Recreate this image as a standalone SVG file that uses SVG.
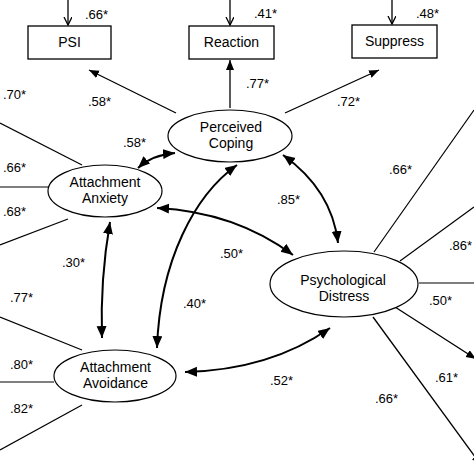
<svg xmlns="http://www.w3.org/2000/svg" width="474" height="474" viewBox="0 0 474 474">
<style>
text{font-family:"Liberation Sans",Arial,sans-serif;fill:#000}
.lbl{font-size:13px}
.nt{font-size:14px;text-anchor:middle}
.box{fill:#fff;stroke:#000;stroke-width:1.3}
.ell{fill:#fff;stroke:#000;stroke-width:1.2}
.thin{stroke:#000;stroke-width:1.2;fill:none}
.ind{stroke:#000;stroke-width:1.3;fill:none;marker-end:url(#ah)}
.cur{stroke:#000;stroke-width:2;fill:none;marker-start:url(#bh);marker-end:url(#bh)}
.err{stroke:#000;stroke-width:1.3;fill:none;marker-end:url(#vh)}
</style>
<defs>
<marker id="ah" markerUnits="userSpaceOnUse" markerWidth="12" markerHeight="10" refX="10" refY="4" orient="auto"><path d="M0,0 L10,4 L0,8 z" fill="#000"/></marker>
<marker id="bh" markerUnits="userSpaceOnUse" markerWidth="14" markerHeight="12" refX="12" refY="5" orient="auto-start-reverse"><path d="M0,0 L12,5 L0,10 z" fill="#000"/></marker>
<marker id="vh" markerUnits="userSpaceOnUse" markerWidth="10" markerHeight="10" refX="8" refY="4" orient="auto"><path d="M0,0 L8,4 L0,8" fill="none" stroke="#000" stroke-width="1.3"/></marker>
</defs>
<rect width="474" height="474" fill="#fff"/>
<g id="connectors">
<line class="err" x1="68" y1="0" x2="68" y2="25"/>
<line class="err" x1="230" y1="0" x2="230" y2="25"/>
<line class="err" x1="392" y1="0" x2="392" y2="24"/>
<line class="ind" x1="176" y1="113" x2="89" y2="70"/>
<line class="ind" x1="230" y1="108" x2="230" y2="60"/>
<line class="ind" x1="285" y1="113" x2="379" y2="70"/>
<line class="thin" x1="0" y1="123" x2="82" y2="165"/>
<line class="thin" x1="0" y1="187" x2="48" y2="187"/>
<line class="thin" x1="0" y1="245" x2="68" y2="219"/>
<line class="thin" x1="0" y1="317" x2="82" y2="350"/>
<line class="thin" x1="0" y1="382" x2="54" y2="382"/>
<line class="thin" x1="0" y1="450" x2="82" y2="405"/>
<line class="thin" x1="374" y1="252" x2="474" y2="110"/>
<line class="thin" x1="400" y1="261" x2="474" y2="207"/>
<line class="thin" x1="419" y1="283" x2="474" y2="283"/>
<line class="ind" x1="395" y1="307" x2="476" y2="359"/>
<line class="ind" x1="373" y1="317" x2="481" y2="465"/>
<path class="cur" d="M138,168 Q152,155 175,153"/>
<path class="cur" d="M157,208 Q235,212 293,255"/>
<path class="cur" d="M283,155 Q332,190 338,243"/>
<path class="cur" d="M110,222 Q100,280 102,338"/>
<path class="cur" d="M237,165 C195,195 160,260 157,348"/>
<path class="cur" d="M185,372 Q270,370 330,328"/>
</g>
<g id="psi"><rect class="box" x="28" y="26" width="83" height="33"/><text class="nt" x="69.5" y="47">PSI</text></g>
<g id="reaction"><rect class="box" x="189" y="26" width="85" height="33"/><text class="nt" x="231.5" y="47">Reaction</text></g>
<g id="suppress"><rect class="box" x="352" y="25" width="85" height="33"/><text class="nt" x="394.5" y="46">Suppress</text></g>
<g id="coping"><ellipse class="ell" cx="230" cy="136" rx="62" ry="26"/><text class="nt" x="231" y="132">Perceived</text><text class="nt" x="231" y="148">Coping</text></g>
<g id="anxiety"><ellipse class="ell" cx="105" cy="191" rx="57" ry="26"/><text class="nt" x="105" y="187">Attachment</text><text class="nt" x="105" y="203">Anxiety</text></g>
<g id="distress"><ellipse class="ell" cx="344" cy="284" rx="74" ry="33"/><text class="nt" x="343" y="285">Psychological</text><text class="nt" x="344" y="301">Distress</text></g>
<g id="avoidance"><ellipse class="ell" cx="115" cy="376" rx="61" ry="26"/><text class="nt" x="115.5" y="372">Attachment</text><text class="nt" x="115.5" y="388">Avoidance</text></g>
<g id="labels" class="lbl">
<text class="lbl" x="85" y="19">.66*</text>
<text class="lbl" x="254" y="18">.41*</text>
<text class="lbl" x="416" y="18">.48*</text>
<text class="lbl" x="3" y="99">.70*</text>
<text class="lbl" x="88" y="106">.58*</text>
<text class="lbl" x="123" y="147">.58*</text>
<text class="lbl" x="246" y="88">.77*</text>
<text class="lbl" x="337" y="106">.72*</text>
<text class="lbl" x="3" y="172">.66*</text>
<text class="lbl" x="3" y="216">.68*</text>
<text class="lbl" x="62" y="267">.30*</text>
<text class="lbl" x="10" y="302">.77*</text>
<text class="lbl" x="183" y="308">.40*</text>
<text class="lbl" x="220" y="258">.50*</text>
<text class="lbl" x="277" y="204">.85*</text>
<text class="lbl" x="389" y="174">.66*</text>
<text class="lbl" x="449" y="250">.86*</text>
<text class="lbl" x="429" y="305">.50*</text>
<text class="lbl" x="10" y="369">.80*</text>
<text class="lbl" x="10" y="413">.82*</text>
<text class="lbl" x="270" y="385">.52*</text>
<text class="lbl" x="435" y="382">.61*</text>
<text class="lbl" x="375" y="403">.66*</text>
</g>
</svg>
